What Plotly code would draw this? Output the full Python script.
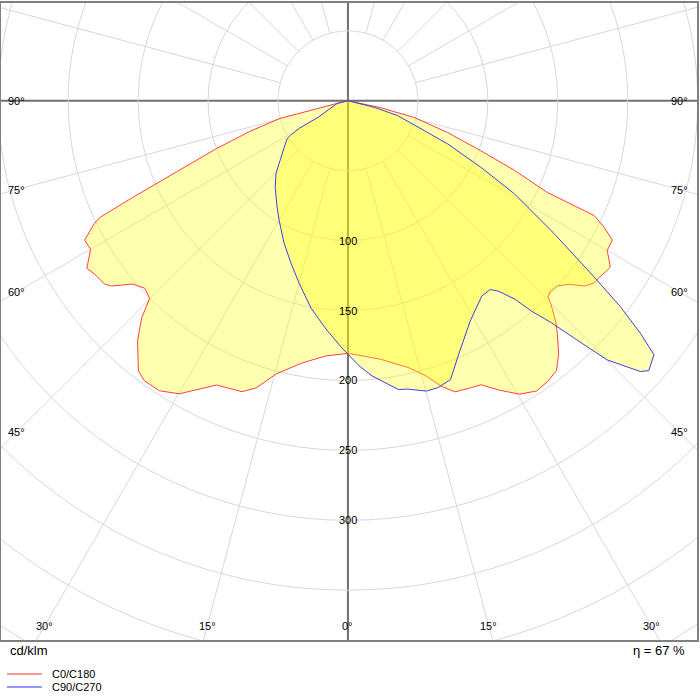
import numpy as np
import plotly.graph_objects as go

# luminous intensity distribution, cd/klm
# gamma = angle from nadir (deg); C180 and C270 are drawn on the left
c0_gamma = [0, 3, 7.3, 12.7, 15.7, 18.1, 20.2, 23.1, 25.1, 27.6, 30.3, 33, 35.4, 37.7, 39.8, 42,
            43.2, 45, 45.5, 46.5, 47.8, 48.5, 50.3, 51.9, 53.5, 54.9, 56.3, 57.6, 60, 62.2, 63.7,
            65, 65.3, 67.3, 69.4, 72.3, 75.8, 78, 90]
c0_cd = [180.7, 182.5, 186.5, 195.5, 204, 214.8, 221.8, 223.2, 224.3, 233.5, 243, 247.5, 246.3,
         243.8, 235.3, 223.6, 217, 205, 200.5, 198.8, 199.3, 199.8, 205.5, 214.7, 219.1, 219.5,
         221, 222.1, 214, 213.6, 204.3, 194.2, 156.9, 129.1, 101.3, 74.8, 49.3, 24, 0]

c180_gamma = [0, 4.9, 9.9, 14.7, 17.7, 20, 24.8, 29.9, 33, 36, 37.8, 41.2, 43.5, 45.1, 47.3, 49.6,
              51.9, 53, 55.6, 57.3, 60, 62.1, 64.2, 64.8, 65.8, 66.6, 67.1, 70, 72.6, 75.4, 76, 90]
c180_cd = [180.7, 183.1, 190.3, 201.9, 215.5, 221.4, 223.9, 241.7, 247.3, 247.5, 244.4, 228.3,
           214.3, 200.1, 197.7, 202.2, 214.7, 217.8, 219.5, 221.8, 212.4, 213, 201.2, 196.1, 168.8,
           149.1, 140.9, 100.1, 73.9, 50.8, 11.8, 0]

c90_gamma = [0, 2.4, 5, 9.9, 11.7, 15.1, 17.4, 20.2, 23.6, 29, 34.4, 37, 38.3, 40.1, 41.1, 42.5,
             43.8, 45, 47.2, 48.1, 50.3, 51.5, 52.9, 54.4, 57.2, 60.8, 63.4, 66.6, 68.6, 73.3, 76, 90]
c90_cd = [181, 189.7, 197.5, 209.6, 210.6, 215, 215, 212.4, 197.8, 180.2, 169.3, 169, 173.5, 185.7,
          199.7, 215.4, 238, 262.1, 285, 288.9, 284.3, 267.1, 244.2, 216.3, 175.3, 136.2, 106.2,
          77.7, 58.7, 37.2, 19.6, 0]

c270_gamma = [0, 1.4, 5.5, 10.1, 15, 19.3, 24.1, 29.9, 33.6, 40, 44.8, 53.7, 58.1, 59.1, 60.5,
              61.1, 76, 90]
c270_cd = [181, 176.8, 164, 150.6, 135, 123.1, 111.7, 98.7, 91.5, 80.9, 73, 56.6, 51.2, 47.6, 40,
           23.6, 8, 0]

rings = [50, 100, 150, 200, 250, 300, 350, 400, 450]
ring_labels = [100, 150, 200, 250, 300]
spokes = list(range(15, 360, 15))
angle_ticks = [0, 15, 30, 45, 60, 75, 90]

FONT = "Liberation Sans"


def half(gamma, cd, side):
    g = np.radians(gamma)
    cd = np.array(cd, dtype=float)
    return side * cd * np.sin(g), -cd * np.cos(g)


def outline(g_left, v_left, g_right, v_right):
    xl, yl = half(g_left, v_left, -1)
    xr, yr = half(g_right, v_right, 1)
    return np.r_[xl[::-1], xr], np.r_[yl[::-1], yr]


fig = go.Figure()

x, y = outline(c180_gamma, c180_cd, c0_gamma, c0_cd)
fig.add_trace(go.Scatter(x=x, y=y, mode="lines", fill="toself", name="C0/C180",
                         line=dict(color="rgb(255,64,64)", width=1),
                         fillcolor="rgba(255,255,0,0.31)"))
x, y = outline(c270_gamma, c270_cd, c90_gamma, c90_cd)
fig.add_trace(go.Scatter(x=x, y=y, mode="lines", fill="toself", name="C90/C270",
                         line=dict(color="rgb(64,64,228)", width=1),
                         fillcolor="rgba(255,255,0,0.31)"))

shapes = []
grid = dict(color="rgb(216,216,216)", width=1)
for r in rings:
    shapes.append(dict(type="circle", xref="x", yref="y", x0=-r, y0=-r, x1=r, y1=r,
                       line=grid, layer="below"))
for a in spokes:
    if a % 90 == 0:
        continue
    t = np.radians(a)
    shapes.append(dict(type="line", xref="x", yref="y", layer="below", line=grid,
                       x0=50 * np.sin(t), y0=-50 * np.cos(t),
                       x1=600 * np.sin(t), y1=-600 * np.cos(t)))
axis = dict(color="rgb(112,112,112)", width=2)
shapes.append(dict(type="line", xref="paper", yref="y", x0=0, x1=1, y0=0, y1=0,
                   line=axis, layer="below"))
shapes.append(dict(type="line", xref="x", yref="paper", x0=0, x1=0, y0=0, y1=1,
                   line=axis, layer="below"))

# legend drawn by hand
shapes.append(dict(type="line", xref="paper", yref="paper", x0=0.0086, x1=0.0587,
                   y0=-0.0532, y1=-0.0532, line=dict(color="rgb(255,150,150)", width=2)))
shapes.append(dict(type="line", xref="paper", yref="paper", x0=0.0086, x1=0.0587,
                   y0=-0.0736, y1=-0.0736, line=dict(color="rgb(150,150,255)", width=2)))

ann = []
for v in ring_labels:
    ann.append(dict(x=0, y=-v, xref="x", yref="y", text=str(v), showarrow=False,
                    font=dict(family=FONT, size=11, color="black")))

W, B = 237, 375.6
for a in angle_ticks:
    t = np.radians(a)
    for side in ([1] if a == 0 else [-1, 1]):
        if a == 90 or B * np.tan(t) > W:
            px, py = side * W, -W / np.tan(t) if a != 90 else 0
        else:
            px, py = side * B * np.tan(t), -B
        ann.append(dict(x=px, y=py, xref="x", yref="y", text=f"{a}°", showarrow=False,
                        font=dict(family=FONT, size=11, color="black")))

below = dict(xref="paper", yref="paper", showarrow=False, yanchor="middle")
ann.append(dict(below, x=0.0103, y=-0.0157, text="cd/klm", xanchor="left",
                font=dict(family=FONT, size=13, color="black")))
ann.append(dict(below, x=0.986, y=-0.0157, text="η = 67 %", xanchor="right",
                font=dict(family=FONT, size=13, color="black")))
ann.append(dict(below, x=0.071, y=-0.0532, text="C0/C180", xanchor="left",
                font=dict(family=FONT, size=11, color="black")))
ann.append(dict(below, x=0.071, y=-0.0736, text="C90/C270", xanchor="left",
                font=dict(family=FONT, size=11, color="black")))

fig.update_layout(width=700, height=700, margin=dict(l=1, r=1, t=1, b=60),
                  paper_bgcolor="white", plot_bgcolor="white", showlegend=False,
                  shapes=shapes, annotations=ann)
fig.update_xaxes(range=[-248.0, 249.5], showgrid=False, zeroline=False, showticklabels=False,
                 showline=True, mirror=True, linecolor="rgb(128,128,128)", linewidth=2,
                 fixedrange=True)
fig.update_yaxes(range=[-385.6, 69.9], showgrid=False, zeroline=False, showticklabels=False,
                 showline=True, mirror=True, linecolor="rgb(128,128,128)", linewidth=2,
                 fixedrange=True)

# page body has an 8px default margin; drop it so the figure sits at 0,0
fig.write_html("out.html", config={"displayModeBar": False},
               post_script="document.body.style.margin='0px';")
